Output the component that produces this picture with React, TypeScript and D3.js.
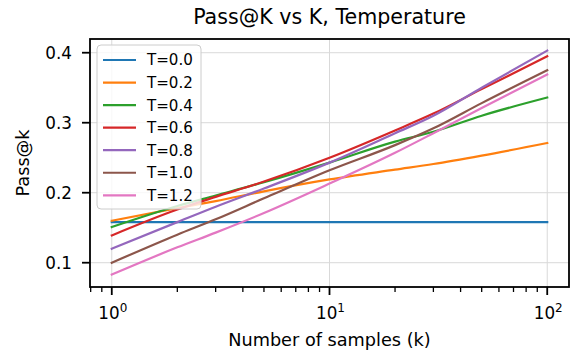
import React from "react";
import * as d3 from "d3";

const kValues = [1, 2, 3, 5, 10, 20, 30, 50, 100];
const temperatures = ["T=0.0", "T=0.2", "T=0.4", "T=0.6", "T=0.8", "T=1.0", "T=1.2"];
const t00 = [0.158, 0.158, 0.158, 0.158, 0.158, 0.158, 0.158, 0.158, 0.158];
const t02 = [0.160, 0.178, 0.188, 0.202, 0.219, 0.233, 0.241, 0.253, 0.271];
const t04 = [0.151, 0.181, 0.196, 0.215, 0.243, 0.273, 0.287, 0.310, 0.336];
const t06 = [0.139, 0.176, 0.194, 0.216, 0.250, 0.289, 0.313, 0.348, 0.395];
const t08 = [0.120, 0.158, 0.180, 0.206, 0.243, 0.285, 0.310, 0.350, 0.403];
const t10 = [0.100, 0.140, 0.162, 0.192, 0.232, 0.268, 0.292, 0.328, 0.375];
const t12 = [0.083, 0.122, 0.143, 0.171, 0.213, 0.257, 0.285, 0.321, 0.369];
const seriesValues = [t00, t02, t04, t06, t08, t10, t12];
const colors = ["#1f77b4", "#ff7f0e", "#2ca02c", "#d62728", "#9467bd", "#8c564b", "#e377c2"];
const yTicks = [0.1, 0.2, 0.3, 0.4];
const xMajorTicks = [1, 10, 100];
const xTickExponents = ["0", "1", "2"];

const W = 587;
const H = 356;
const M = { left: 90, top: 39, right: 569, bottom: 287 };
const FONT = "'DejaVu Sans', sans-serif";

export default function App() {
  const x = d3.scaleLog().domain([Math.pow(10, -0.1), Math.pow(10, 2.1)]).range([M.left, M.right]);
  const y = d3.scaleLinear().domain([0.0653, 0.4196]).range([M.bottom, M.top]);

  const line = d3
    .line<number>()
    .x((_, i) => x(kValues[i]))
    .y((d) => y(d))
    .curve(d3.curveMonotoneX);

  const [d0, d1] = x.domain();
  const minorTicks: number[] = [];
  for (let e = -1; e <= 2; e++) {
    for (let m = 2; m <= 9; m++) {
      const v = m * Math.pow(10, e);
      if (v >= d0 && v <= d1) minorTicks.push(v);
    }
  }

  const legendX = 97;
  const legendY = 45;
  const legendW = 104;
  const rowH = 22.55;
  const legendH = 164;

  return (
    <svg width={W} height={H} style={{ position: "absolute", left: 0, top: 0, background: "#fff", fontFamily: FONT }}>
      <rect x={0} y={0} width={W} height={H} fill="#fff" />
      <defs>
        <clipPath id="plotclip">
          <rect x={M.left} y={M.top} width={M.right - M.left} height={M.bottom - M.top} />
        </clipPath>
      </defs>
      {yTicks.map((t) => (
        <line key={"gy" + t} x1={M.left} x2={M.right} y1={y(t)} y2={y(t)} stroke="#d9d9d9" strokeWidth={1} />
      ))}
      {xMajorTicks.map((t) => (
        <line key={"gx" + t} x1={x(t)} x2={x(t)} y1={M.top} y2={M.bottom} stroke="#d9d9d9" strokeWidth={1} />
      ))}
      <g clipPath="url(#plotclip)">
        {seriesValues.map((vals, i) => (
          <path key={temperatures[i]} d={line(vals) || ""} fill="none" stroke={colors[i]} strokeWidth={2.2} strokeLinecap="square" />
        ))}
      </g>
      <rect x={legendX} y={legendY} width={legendW} height={legendH} rx={4} ry={4} fill="#fff" fillOpacity={0.8} stroke="#cccccc" strokeWidth={1} />
      {temperatures.map((t, i) => {
        const cy = 60 + i * rowH;
        return (
          <g key={"leg" + t}>
            <line x1={103} x2={136} y1={cy} y2={cy} stroke={colors[i]} strokeWidth={2.2} />
            <text x={147} y={cy} dy="0.36em" fontSize={15.1} fill="#000">
              {t}
            </text>
          </g>
        );
      })}
      <rect x={M.left} y={M.top} width={M.right - M.left} height={M.bottom - M.top} fill="none" stroke="#000" strokeWidth={1.8} />
      {yTicks.map((t) => (
        <g key={"yt" + t}>
          <line x1={M.left - 8} x2={M.left} y1={y(t)} y2={y(t)} stroke="#000" strokeWidth={1.8} />
          <text x={72} y={y(t)} dy="0.36em" textAnchor="end" fontSize={16.8} fill="#000">
            {t.toFixed(1)}
          </text>
        </g>
      ))}
      {xMajorTicks.map((t, i) => (
        <g key={"xt" + t}>
          <line x1={x(t)} x2={x(t)} y1={M.bottom} y2={M.bottom + 8} stroke="#000" strokeWidth={1.8} />
          <text x={x(t) + 1} y={319} textAnchor="middle" fontSize={16.8} fill="#000">
            10
            <tspan dy={-7} fontSize={12}>
              {xTickExponents[i]}
            </tspan>
          </text>
        </g>
      ))}
      {minorTicks.map((t) => (
        <line key={"mt" + t} x1={x(t)} x2={x(t)} y1={M.bottom} y2={M.bottom + 5} stroke="#000" strokeWidth={1.3} />
      ))}
      <text x={(M.left + M.right) / 2} y={24} textAnchor="middle" fontSize={20.6} fill="#000">
        Pass@K vs K, Temperature
      </text>
      <text x={(M.left + M.right) / 2} y={346} textAnchor="middle" fontSize={17.7} fill="#000">
        Number of samples (k)
      </text>
      <text transform={`translate(29, ${(M.top + M.bottom) / 2}) rotate(-90)`} textAnchor="middle" fontSize={17.7} fill="#000">
        Pass@k
      </text>
    </svg>
  );
}
